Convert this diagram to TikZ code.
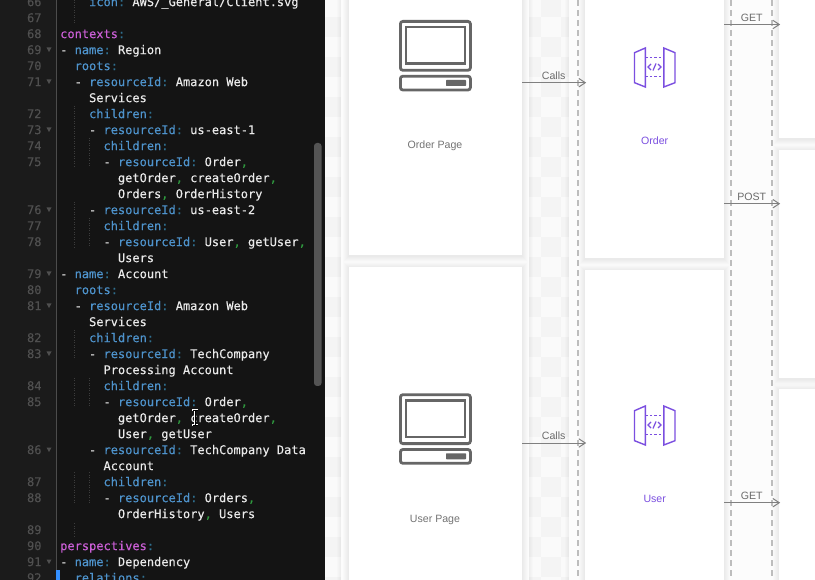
\documentclass[tikz,border=0pt]{standalone}
\usepackage{fontspec}
\setmainfont{Liberation Sans}
\setmonofont[FakeBold=0.2]{DejaVu Sans Mono}
\usetikzlibrary{arrows.meta}
\definecolor{edbg}{HTML}{141414}
\definecolor{gutbg}{HTML}{1B1B1B}
\definecolor{keyc}{HTML}{4E93CC}
\definecolor{topc}{HTML}{CB5FD6}
\definecolor{colc}{HTML}{2F6F8F}
\definecolor{comc}{HTML}{2F9A3F}
\definecolor{txtc}{HTML}{EAEAEA}
\definecolor{numc}{HTML}{4F4F4F}
\definecolor{purp}{HTML}{7B4FE0}
\definecolor{icong}{HTML}{666666}
\definecolor{chk}{HTML}{F4F4F4}
\definecolor{chl}{HTML}{FAFAFA}
\tikzset{
 x=1pt,y=-1pt,
 code/.style={inner sep=0pt,anchor=base west,text=txtc,font=\ttfamily\fontsize{12}{16}\selectfont},
 lnum/.style={inner sep=0pt,anchor=base east,text=numc,font=\ttfamily\fontsize{12}{16}\selectfont},
 card/.style={fill=white,inner sep=0pt,anchor=north west,draw=none},
 lbl/.style={inner sep=0pt,text=black!58,font=\fontsize{10.6}{12}\selectfont},
 conn/.style={draw=black!50,line width=1pt,shorten >=-1.2pt,-{Straight Barb[length=6.5pt,width=8.5pt,line width=1pt]}},
 dashv/.style={draw=black!26,line width=2pt,dash pattern=on 6pt off 4pt},
 guide/.style={draw=white!24!black,line width=.5pt,dash pattern=on 1pt off 1.5pt},
 lap/.style={draw=icong,line width=2.8pt,rounded corners=2.5pt},
 api/.style={draw=purp,line width=1.4pt,line join=miter},
 apid/.style={draw=purp,line width=1.3pt,dash pattern=on 2.5pt off 2pt},
}
\newcommand{\kk}[1]{\textcolor{keyc}{#1}\textcolor{colc}{:}}
\newcommand{\tp}[1]{\textcolor{topc}{#1}\textcolor{colc}{:}}
\newcommand{\cmm}{\textcolor{comc}{,}}
% row col text
\newcommand{\cln}[3]{\node[code] (cl#1) at ({60+7.22*#2},{6.1+16*#1}) {#3};}
% row number
\newcommand{\lnr}[2]{\node[lnum] (ln#1) at (41.7,{6.1+16*#1}) {#2};}
\newcommand{\fold}[1]{\fill[numc] ({46.5},{-0.5+16*#1}) -- ++(5,0) -- ++(-2.5,4.5) -- cycle;}
\newcommand{\softcard}[5]{%
 \foreach \i in {1,...,6}{\fill[black,opacity=.011] ({#2-\i},{#3-\i+1}) rectangle ({#4+\i},{#5+\i+1});}
 \pgfmathsetmacro{\cw}{#4-#2}\pgfmathsetmacro{\ch}{#5-#3}
 \node[card,minimum width=\cw pt,minimum height=\ch pt] (#1) at (#2,#3) {};}
\newcommand{\laptop}[1]{\begin{scope}[yshift=-#1pt]
 \draw[lap] (400.4,21.4) rectangle (470.4,70.3);
 \draw[icong,line width=2.6pt] (406,27) rectangle (465,63.5);
 \draw[lap] (400.4,76.2) rectangle (470.4,90);
 \fill[icong,rounded corners=.6pt] (446,80) rectangle (466,86);
 \end{scope}}
\newcommand{\apigw}[1]{\begin{scope}[yshift=-#1pt]
 \draw[api] (634.5,52.7) -- (645.3,48) -- (645.3,87) -- (634.5,82.7) -- cycle;
 \draw[api] (663.8,48) -- (675,52.7) -- (675,82.7) -- (663.8,87) -- cycle;
 \draw[apid] (645.3,57.7) -- (663.8,57.7);
 \draw[apid] (645.3,76.7) -- (663.8,76.7);
 \draw[purp,line width=1.2pt] (651,64) -- (648,67) -- (651,70);
 \draw[purp,line width=1.2pt] (658,64) -- (661,67) -- (658,70);
 \draw[purp,line width=1.2pt] (656,63.5) -- (653,70.5);
 \end{scope}}
\begin{document}
\begin{tikzpicture}
\useasboundingbox (0,0) rectangle (815,580);
\clip (0,0) rectangle (815,580);
% right background
\fill[chl] (325,0) rectangle (815,580);
\foreach \a in {0,...,25}{\foreach \b in {-1,...,29}{
 \pgfmathparse{int(mod(\a+\b,2))}
 \ifnum\pgfmathresult=0
 \fill[chk] ({321+20*\a},{17+20*\b}) rectangle ({341+20*\a},{37+20*\b});
 \fi}}
% lanes
\foreach \i in {1,...,4}{\fill[black,opacity=.01] ({341-\i},-10) rectangle ({529+\i},590);}
\fill[white!99!black] (341,-10) rectangle (529,590);
\foreach \i in {1,...,4}{\fill[black,opacity=.01] ({569-\i},-10) rectangle (600,590);}
\fill[white!99!black] (569,-10) rectangle (815,590);
\softcard{orderpagecard}{349}{-10}{522}{255}
\softcard{userpagecard}{349}{267}{522}{600}
\softcard{ordercard}{585}{-10}{724}{258}
\softcard{usercard}{585}{270}{724}{600}
\softcard{rcardA}{779}{-10}{830}{138}
\softcard{rcardB}{779}{150}{830}{378}
\softcard{rcardC}{779}{389}{830}{600}
% dashed lane borders
\foreach \n/\xx in {da/578,db/731,dc/772}{
 \coordinate (\n t) at (\xx,0); \coordinate (\n b) at (\xx,580);
 \draw[dashv] (\n t) -- (\n b);}
% icons
\laptop{0}\laptop{373.3}
\apigw{0}\apigw{358}
% labels
\node[lbl,text=black!55] (lorderpage) at (435,146) {Order Page};
\node[lbl,text=black!55] (luserpage) at (435,520) {User Page};
\node[lbl,text=purp] (lorder) at (654.7,140.7) {Order};
\node[lbl,text=purp] (luser) at (654.7,498.7) {User};
% connectors
\draw[conn] (orderpagecard.east |- 0,82.7) -- (ordercard.west |- 0,82.7) node[lbl,midway,above=2.6pt] (e1) {Calls};
\draw[conn] (userpagecard.east |- 0,443) -- (usercard.west |- 0,443) node[lbl,midway,above=2.6pt] (e2) {Calls};
\draw[conn] (ordercard.east |- 0,24.5) -- (rcardA.west |- 0,24.5) node[lbl,midway,above=2.6pt] (e3) {GET};
\draw[conn] (ordercard.east |- 0,203.7) -- (rcardB.west |- 0,203.7) node[lbl,midway,above=2.6pt] (e4) {POST};
\draw[conn] (usercard.east |- 0,502.7) -- (rcardC.west |- 0,502.7) node[lbl,midway,above=2.6pt] (e5) {GET};
% editor
\fill[edbg] (0,0) rectangle (325,580);
\fill[gutbg] (0,0) rectangle (56,580);
\draw[black!70,line width=.5pt] (56,0) -- (56,580);
\foreach \xx/\ya/\yb in {74.4/0/25,74.4/106/168,74.4/202/248,89.4/138/168,89.4/218/248,
  74.4/330/360,89.4/378/408,74.4/378/408,74.4/472/503,89.4/472/503,74.4/523/537}
 {\draw[guide] (\xx,\ya) -- (\xx,\yb);}
\fill[white!33!black,rounded corners=3pt] (314,143) rectangle (321.5,386);
\fill[blue!55!cyan!80!white] (56,570) rectangle (60,585);
\foreach \r/\n in {0/66,1/67,2/68,3/69,4/70,5/71,7/72,8/73,9/74,10/75,13/76,14/77,15/78,17/79,18/80,19/81,21/82,22/83,24/84,25/85,28/86,30/87,31/88,33/89,34/90,35/91,36/92}{\lnr{\r}{\n}}
\foreach \r in {3,5,8,13,17,19,22,28,35}{\fold{\r}}
\cln{0}{4}{\kk{icon} AWS/\_General/Client.svg}
\cln{2}{0}{\tp{contexts}}
\cln{3}{0}{- \kk{name} Region}
\cln{4}{2}{\kk{roots}}
\cln{5}{2}{- \kk{resourceId} Amazon Web}
\cln{6}{4}{Services}
\cln{7}{4}{\kk{children}}
\cln{8}{4}{- \kk{resourceId} us-east-1}
\cln{9}{6}{\kk{children}}
\cln{10}{6}{- \kk{resourceId} Order\cmm}
\cln{11}{8}{getOrder\cmm{} createOrder\cmm}
\cln{12}{8}{Orders\cmm{} OrderHistory}
\cln{13}{4}{- \kk{resourceId} us-east-2}
\cln{14}{6}{\kk{children}}
\cln{15}{6}{- \kk{resourceId} User\cmm{} getUser\cmm}
\cln{16}{8}{Users}
\cln{17}{0}{- \kk{name} Account}
\cln{18}{2}{\kk{roots}}
\cln{19}{2}{- \kk{resourceId} Amazon Web}
\cln{20}{4}{Services}
\cln{21}{4}{\kk{children}}
\cln{22}{4}{- \kk{resourceId} TechCompany}
\cln{23}{6}{Processing Account}
\cln{24}{6}{\kk{children}}
\cln{25}{6}{- \kk{resourceId} Order\cmm}
\cln{26}{8}{getOrder\cmm{} createOrder\cmm}
\cln{27}{8}{User\cmm{} getUser}
\cln{28}{4}{- \kk{resourceId} TechCompany Data}
\cln{29}{6}{Account}
\cln{30}{6}{\kk{children}}
\cln{31}{6}{- \kk{resourceId} Orders\cmm}
\cln{32}{8}{OrderHistory\cmm{} Users}
\cln{34}{0}{\tp{perspectives}}
\cln{35}{0}{- \kk{name} Dependency}
\cln{36}{2}{\kk{relations}}
% text cursor
\draw[white,line width=2.2pt] (192,410) -- (198,410) (195,410) -- (195,425) (192,425) -- (198,425);
\draw[black,line width=.9pt] (192.5,410) -- (197.5,410) (195,410) -- (195,425) (192.5,425) -- (197.5,425);
\end{tikzpicture}
\end{document}
